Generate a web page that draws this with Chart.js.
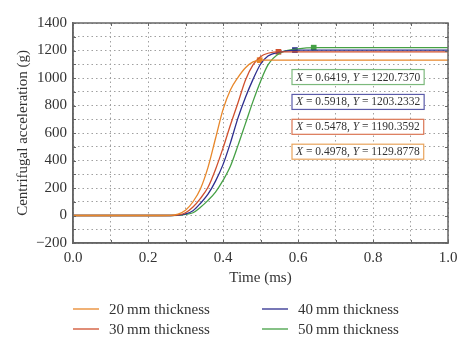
<!DOCTYPE html>
<html>
<head>
<meta charset="utf-8">
<script src="https://cdn.jsdelivr.net/npm/chart.js@4.4.1/dist/chart.umd.min.js"></script>
<style>
  html, body { margin: 0; padding: 0; background: #fff; }
  #wrap { width: 474px; height: 351px; }
</style>
</head>
<body>
<div id="wrap"><canvas id="myChart"></canvas></div>
<script>
// time axis (ms) shared by all four curves
var time = [0, 0.1, 0.2, 0.24, 0.26, 0.28, 0.30, 0.32, 0.34, 0.36, 0.38, 0.40, 0.42,
            0.44, 0.46, 0.48, 0.50, 0.52, 0.55, 0.60, 0.65, 0.70, 0.80, 0.90, 1.0];

// centrifugal acceleration (g)
var acc20 = [0, 0, 0, 0, 1, 10, 38, 100, 195, 350, 560, 770, 915,
             1005, 1075, 1117, 1130, 1130, 1130, 1130, 1130, 1130, 1130, 1130, 1130];
var acc30 = [0, 0, 0, 0, 0, 4, 20, 62, 125, 205, 335, 490, 660,
             820, 985, 1095, 1155, 1180, 1190, 1190, 1190, 1190, 1190, 1190, 1190];
var acc40 = [0, 0, 0, 0, 0, 2, 11, 35, 89, 155, 250, 370, 530,
             710, 860, 990, 1100, 1160, 1188, 1203, 1203, 1203, 1203, 1203, 1203];
var acc50 = [0, 0, 0, 0, 0, 1, 8, 20, 60, 110, 170, 255, 360,
             510, 670, 830, 975, 1095, 1178, 1212, 1221, 1221, 1221, 1221, 1221];

var seriesNames = ["20\u2009mm thickness", "30\u2009mm thickness", "40\u2009mm thickness", "50\u2009mm thickness"];
var seriesColors = ["#E8872A", "#D0502E", "#2E2E8E", "#45A045"];
var boxColors = ["#E9A45C", "#DA7654", "#5B5BA9", "#7CB97C"];

// marked points (X, Y)
var markerX = [0.4978, 0.5478, 0.5918, 0.6419];
var markerY = [1129.8778, 1190.3592, 1203.2332, 1220.7370];

var serif = "'Liberation Serif', 'DejaVu Serif', serif";
Chart.defaults.font.family = serif;
Chart.defaults.color = "#333";

var curves = [acc20, acc30, acc40, acc50];

function points(values) {
  return time.map(function (t, k) { return { x: t, y: values[k] }; });
}

var datasets = curves.map(function (vals, i) {
  return {
    label: seriesNames[i],
    data: points(vals),
    borderColor: seriesColors[i],
    backgroundColor: seriesColors[i],
    borderWidth: 1.3,
    pointRadius: 0,
    cubicInterpolationMode: "monotone",
    fill: false,
  };
});
markerX.forEach(function (mx, i) {
  datasets.push({
    label: "marker" + i,
    data: [{ x: mx, y: markerY[i] }],
    showLine: false,
    pointStyle: "rect",
    pointRadius: 4,
    pointBackgroundColor: seriesColors[i],
    pointBorderColor: seriesColors[i],
    pointBorderWidth: 0,
  });
});

// frame, inner ticks and the X/Y note boxes
var framePlugin = {
  id: "frame",
  afterDatasetsDraw: function (chart) {
    var ctx = chart.ctx, a = chart.chartArea;
    var xs = chart.scales.x, ys = chart.scales.y;
    ctx.save();
    ctx.strokeStyle = "#666";
    ctx.lineWidth = 1.5;
    ctx.strokeRect(a.left, a.top, a.right - a.left, a.bottom - a.top);
    ctx.lineWidth = 1;
    ctx.beginPath();
    xs.ticks.forEach(function (t) {
      var px = Math.round(xs.getPixelForValue(t.value)) + 0.5;
      ctx.moveTo(px, a.bottom); ctx.lineTo(px, a.bottom - 3);
      ctx.moveTo(px, a.top); ctx.lineTo(px, a.top + 3);
    });
    ys.ticks.forEach(function (t) {
      var py = Math.round(ys.getPixelForValue(t.value)) + 0.5;
      ctx.moveTo(a.left, py); ctx.lineTo(a.left + 3, py);
      ctx.moveTo(a.right, py); ctx.lineTo(a.right - 3, py);
    });
    ctx.stroke();

    // note boxes, top to bottom: 50, 40, 30, 20 mm
    var left = xs.getPixelForValue(0.584);
    [3, 2, 1, 0].forEach(function (s, row) {
      var cy = ys.getPixelForValue(1007 - row * 181);
      var parts = [
        ["X", true],
        [" = " + markerX[s].toFixed(4) + ", ", false],
        ["Y", true],
        [" = " + markerY[s].toFixed(4), false],
      ];
      var w = 0;
      parts.forEach(function (p) {
        ctx.font = (p[1] ? "italic " : "") + "11.5px " + serif;
        p.push(ctx.measureText(p[0]).width);
        w += p[2];
      });
      ctx.fillStyle = "#fff";
      ctx.fillRect(left, cy - 7.5, w + 8, 15);
      ctx.strokeStyle = boxColors[s];
      ctx.lineWidth = 1.2;
      ctx.strokeRect(left, cy - 7.5, w + 8, 15);
      ctx.fillStyle = "#333";
      ctx.textBaseline = "middle";
      var tx = left + 4;
      parts.forEach(function (p) {
        ctx.font = (p[1] ? "italic " : "") + "11.5px " + serif;
        ctx.fillText(p[0], tx, cy + 0.5);
        tx += p[2];
      });
    });
    ctx.restore();
  },
};

// two-column legend under the axis
var legendPlugin = {
  id: "twoColLegend",
  afterDraw: function (chart) {
    var ctx = chart.ctx, a = chart.chartArea;
    var order = [0, 2, 1, 3];
    ctx.save();
    ctx.font = "15px " + serif;
    ctx.textBaseline = "middle";
    order.forEach(function (s, k) {
      var col = k % 2, row = Math.floor(k / 2);
      var x0 = a.left + col * 189;
      var y0 = a.bottom + 66 + row * 20;
      ctx.strokeStyle = seriesColors[s];
      ctx.lineWidth = 1.3;
      ctx.beginPath();
      ctx.moveTo(x0, y0); ctx.lineTo(x0 + 26, y0);
      ctx.stroke();
      ctx.fillStyle = "#333";
      ctx.fillText(seriesNames[s], x0 + 36, y0 + 1);
    });
    ctx.restore();
  },
};

var ctx = document.getElementById("myChart").getContext("2d");
var myChart = new Chart(ctx, {
  type: "line",
  data: { datasets: datasets },
  options: {
    responsive: true,
    maintainAspectRatio: false,
    animation: false,
    layout: { padding: { top: 23, right: 26, bottom: 64, left: 0 } },
    scales: {
      x: {
        type: "linear",
        min: 0,
        max: 1,
        ticks: {
          stepSize: 0.1,
          autoSkip: false,
          maxRotation: 0,
          padding: 6,
          font: { size: 15 },
          color: "#333",
          callback: function (v) {
            var n = Math.round(v * 10);
            return n % 2 === 0 ? (n / 10).toFixed(1) : "";
          },
        },
        grid: { color: "#a0a0a0", drawTicks: false, lineWidth: 1 },
        border: { color: "#666", width: 1.5, dash: [1.5, 3] },
        title: {
          display: true,
          text: "Time (ms)",
          font: { size: 15 },
          color: "#333",
          padding: { top: 0, bottom: 0 },
        },
        afterFit: function (s) { s.height = 44; },
      },
      y: {
        min: -200,
        max: 1400,
        ticks: {
          stepSize: 100,
          autoSkip: false,
          padding: 6,
          font: { size: 15 },
          color: "#333",
          callback: function (v) {
            if (Math.round(v) % 200 !== 0) return "";
            return v < 0 ? "\u2212" + (-v) : String(v);
          },
        },
        grid: { color: "#a0a0a0", drawTicks: false, lineWidth: 1 },
        border: { color: "#666", width: 1.5, dash: [1.5, 3] },
        title: {
          display: true,
          text: "Centrifugal acceleration (g)",
          font: { size: 15 },
          color: "#333",
          padding: { top: 14, bottom: 0 },
        },
        afterFit: function (s) { s.width = 73; },
      },
    },
    plugins: {
      legend: { display: false },
      tooltip: { enabled: false },
    },
  },
  plugins: [framePlugin, legendPlugin],
});
</script>
</body>
</html>
